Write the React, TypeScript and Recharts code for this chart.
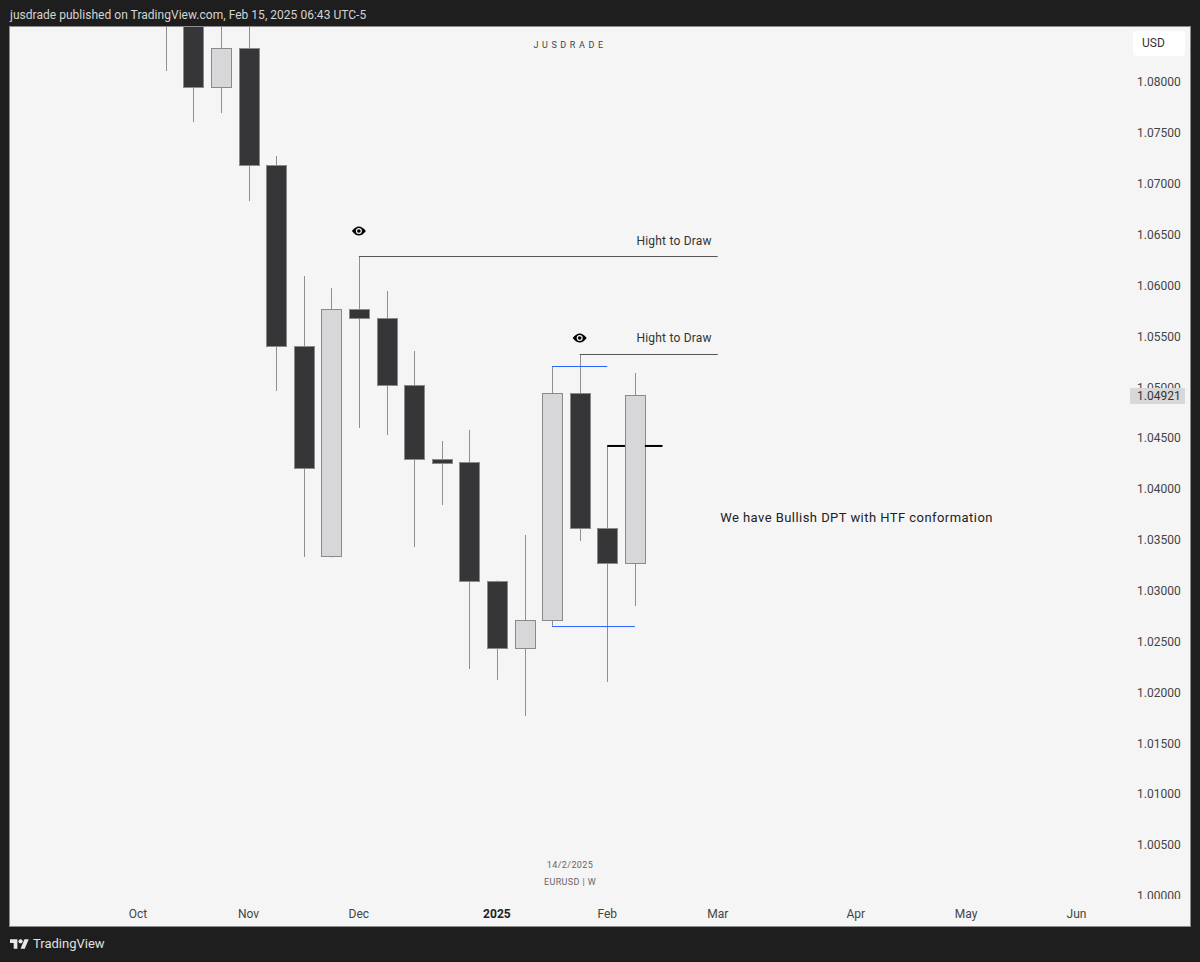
import React from 'react';
import { ComposedChart, Bar, XAxis, YAxis, ReferenceLine, ReferenceDot } from 'recharts';

// weekly EURUSD, week index 0 = Oct 7 2024
const weeks = [1, 2, 3, 4, 5, 6, 7, 8, 9, 10, 11, 12, 13, 14, 15, 16, 17, 18];
const opens = [1.092, 1.087, 1.07946, 1.08334, 1.07184, 1.05405, 1.03332, 1.05769, 1.05671, 1.05022, 1.04285, 1.04256, 1.03086, 1.02437, 1.02703, 1.04934, 1.03607, 1.03263];
const highs = [1.095, 1.09, 1.087, 1.087, 1.07273, 1.06093, 1.05975, 1.0628, 1.05946, 1.05356, 1.04472, 1.0458, 1.031, 1.03548, 1.05209, 1.05327, 1.04432, 1.0514];
const lows = [1.08108, 1.07607, 1.07695, 1.0683, 1.04963, 1.03332, 1.03327, 1.046, 1.04531, 1.0343, 1.03843, 1.02231, 1.02123, 1.01769, 1.02654, 1.03489, 1.02103, 1.0285];
const closes = [1.087, 1.07946, 1.08334, 1.07184, 1.05405, 1.04197, 1.05769, 1.05671, 1.05022, 1.04285, 1.04246, 1.03086, 1.02437, 1.02703, 1.04934, 1.03607, 1.03263, 1.04921];

const priceTicks = [1.08, 1.075, 1.07, 1.065, 1.06, 1.055, 1.05, 1.045, 1.04, 1.035, 1.03, 1.025, 1.02, 1.015, 1.01, 1.005, 1.0];
const timeTicks = [0, 4, 8, 13, 17, 21, 26, 30, 34];
const timeLabels = ['Oct', 'Nov', 'Dec', '2025', 'Feb', 'Mar', 'Apr', 'May', 'Jun'];

const lastPrice = 1.04921;
const highLines = [
  { id: 'h1', from: 8, to: 21, price: 1.06285 },
  { id: 'h2', from: 16, to: 21, price: 1.05322 },
];
const blueLines = [
  { id: 'b1', from: 15, to: 17, price: 1.05204 },
  { id: 'b2', from: 15, to: 18, price: 1.02648 },
];
// the black level sits behind the last candle, so it comes in two pieces
const blackLines = [
  { id: 'k1', from: 17, to: 17.64, price: 1.04423 },
  { id: 'k2', from: 18.36, to: 19, price: 1.04423 },
];
const eyes = [
  { week: 8, price: 1.06536 },
  { week: 16, price: 1.05484 },
];
const notes = [
  { week: 19.42, price: 1.06437, text: 'Hight to Draw', anchor: 'middle', size: 12, spacing: 0.2, color: '#333' },
  { week: 19.42, price: 1.05484, text: 'Hight to Draw', anchor: 'middle', size: 12, spacing: 0.2, color: '#333' },
  { week: 21.09, price: 1.03725, text: 'We have Bullish DPT with HTF conformation', anchor: 'start', size: 13, spacing: 0.45, color: '#222' },
  { week: 15.65, price: 1.08364, text: 'JUSDRADE', anchor: 'middle', size: 9, spacing: 3.6, color: '#444' },
  { week: 15.65, price: 1.00305, text: '14/2/2025', anchor: 'middle', size: 9, spacing: 0.4, color: '#666' },
  { week: 15.65, price: 1.00138, text: 'EURUSD | W', anchor: 'middle', size: 9, spacing: 0.4, color: '#666' },
];

const candles = weeks.map((week, i) => ({
  week,
  open: opens[i],
  high: highs[i],
  low: lows[i],
  close: closes[i],
}));

const FONT = 'Roboto, sans-serif';

const Candle = (props: any) => {
  const { x, y, width, height, payload } = props;
  const { open, high, low, close } = payload;
  const perUnit = height / (high - low);
  const top = Math.floor(y + (high - Math.max(open, close)) * perUnit) + 0.5;
  const bottom = Math.floor(y + (high - Math.min(open, close)) * perUnit) + 0.5;
  const mid = Math.round(x + width / 2) + 0.5;
  const left = Math.round(x) + 0.5;
  const up = close >= open;
  return (
    <g>
      <line x1={mid} x2={mid} y1={y} y2={y + height} stroke="#8f8f8f" strokeWidth={1} />
      <rect
        x={left}
        y={top}
        width={Math.round(width)}
        height={Math.max(bottom - top, 1)}
        fill={up ? '#d7d7d9' : '#363638'}
        stroke="#8a8a8a"
        strokeWidth={1}
      />
    </g>
  );
};

const Eye = ({ cx, cy }: any) => (
  <g>
    <path d={`M${cx - 7} ${cy}Q${cx} ${cy - 9} ${cx + 7} ${cy}Q${cx} ${cy + 9} ${cx - 7} ${cy}Z`} fill="#000" />
    <circle cx={cx} cy={cy} r={3} fill="#f5f5f5" />
    <circle cx={cx} cy={cy} r={1.8} fill="#000" />
  </g>
);

const Note = ({ cx, cy, note }: any) => (
  <text
    x={cx}
    y={cy}
    dy="0.35em"
    textAnchor={note.anchor}
    fontSize={note.size}
    fontFamily={FONT}
    letterSpacing={note.spacing}
    fill={note.color}
  >
    {note.text}
  </text>
);

const Logo = () => (
  <svg width={19} height={15} viewBox="0 0 36 28" style={{ position: 'absolute', left: 10, top: 937 }}>
    <path d="M14 22H7V11H0V4h14v18zM28 22h-8l7.5-18h8L28 22z" fill="#e8e8e8" />
    <circle cx={20} cy={8} r={4} fill="#e8e8e8" />
  </svg>
);

export default function App() {
  return (
    <div style={{ position: 'absolute', left: 0, top: 0, width: 1200, height: 962, background: '#1e1e1e', fontFamily: FONT, overflow: 'hidden' }}>
      <div style={{ position: 'absolute', left: 10, top: 7, fontSize: 12, lineHeight: '16px', letterSpacing: 0.03, color: '#d4d4d4', whiteSpace: 'nowrap' }}>
        jusdrade published on TradingView.com, Feb 15, 2025 06:43 UTC-5
      </div>
      <div style={{ position: 'absolute', left: 10, top: 27, width: 1180, height: 899, background: '#f5f5f5', boxShadow: '0 0 0 1px #8c8c8c', overflow: 'hidden' }}>
        <ComposedChart
          width={1180}
          height={899}
          data={candles}
          margin={{ top: 0, right: 0, bottom: 0, left: 0 }}
        >
          <XAxis
            dataKey="week"
            type="number"
            domain={[-4.64, 36.01]}
            allowDataOverflow
            ticks={timeTicks}
            interval={0}
            height={27}
            axisLine={false}
            tickLine={false}
            tickSize={0}
            tick={({ x, y, payload }: any) => (
              <text
                x={x}
                y={y + 17}
                textAnchor="middle"
                fontSize={12}
                fontFamily={FONT}
                fontWeight={payload.value === 13 ? 700 : 400}
                fill={payload.value === 13 ? '#222' : '#444'}
              >
                {timeLabels[timeTicks.indexOf(payload.value)]}
              </text>
            )}
          />
          <YAxis
            orientation="right"
            type="number"
            domain={[0.9997, 1.08541]}
            allowDataOverflow
            ticks={priceTicks}
            interval={0}
            width={58}
            axisLine={false}
            tickLine={false}
            tickSize={0}
            tickMargin={5}
            tickFormatter={(v: number) => v.toFixed(5)}
            tick={{ fontSize: 12, fontFamily: FONT, fill: '#444' }}
          />
          <Bar
            dataKey={(d: any) => [d.low, d.high]}
            barSize={20}
            shape={<Candle />}
            isAnimationActive={false}
          />
          {blackLines.map((l) => (
            <ReferenceLine
              key={l.id}
              segment={[{ x: l.from, y: l.price }, { x: l.to, y: l.price }]}
              stroke="#000"
              strokeWidth={2}
            />
          ))}
          {highLines.map((l) => (
            <ReferenceLine
              key={l.id}
              segment={[{ x: l.from, y: l.price }, { x: l.to, y: l.price }]}
              stroke="#555"
              strokeWidth={1}
            />
          ))}
          {blueLines.map((l) => (
            <ReferenceLine
              key={l.id}
              segment={[{ x: l.from, y: l.price }, { x: l.to, y: l.price }]}
              stroke="#2962ff"
              strokeWidth={1}
            />
          ))}
          {eyes.map((e) => (
            <ReferenceDot key={e.week} x={e.week} y={e.price} r={0} shape={<Eye />} />
          ))}
          {notes.map((n, i) => (
            <ReferenceDot key={i} x={n.week} y={n.price} r={0} shape={<Note note={n} />} />
          ))}
        </ComposedChart>
        <div style={{ position: 'absolute', left: 1122, top: 872, width: 58, height: 27, background: '#f5f5f5' }} />
        <div style={{ position: 'absolute', left: 1123, top: 4, width: 52, height: 25, background: '#fff', borderRadius: 4, fontSize: 12, lineHeight: '25px', color: '#333', paddingLeft: 9, boxSizing: 'border-box' }}>
          USD
        </div>
        <div style={{ position: 'absolute', left: 1120, top: 361, width: 55, height: 16, background: '#d8d8d8', fontSize: 12, lineHeight: '17px', color: '#333', paddingLeft: 7, boxSizing: 'border-box' }}>
          {lastPrice.toFixed(5)}
        </div>
      </div>
      <Logo />
      <div style={{ position: 'absolute', left: 33, top: 935, fontSize: 13, lineHeight: '18px', color: '#e0e0e0' }}>TradingView</div>
    </div>
  );
}
